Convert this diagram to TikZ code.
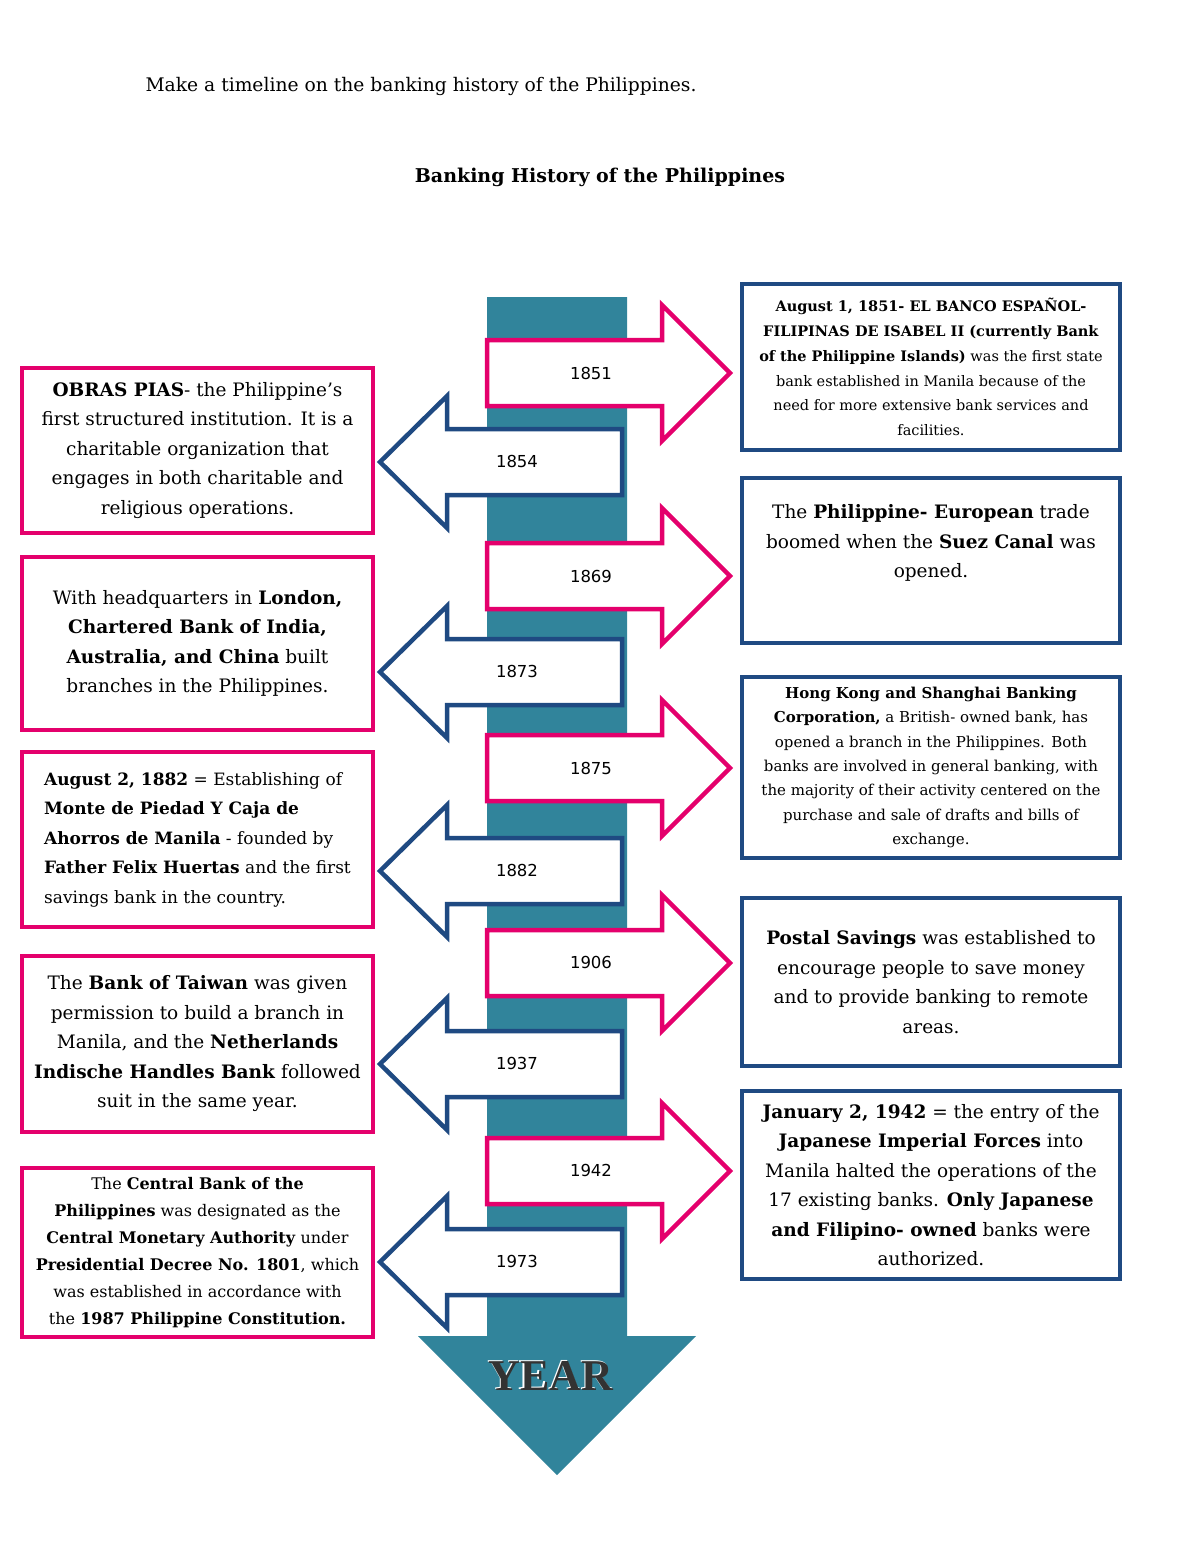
\documentclass[tikz,border=0pt]{standalone}
\usepackage{fontspec}
\setmainfont{DejaVu Serif}
\newfontfamily\yearfont{DejaVu Sans}
\newfontfamily\bannerfont{Liberation Serif}
\usepackage{xcolor}
\definecolor{timelineteal}{HTML}{31849B}
\definecolor{timelinepink}{HTML}{E4006C}
\definecolor{timelineblue}{HTML}{1F4A82}

\tikzset{
    pinkbox/.style = {draw = timelinepink, line width = 4pt, fill = white, align = center, minimum width = 351pt, inner sep = 0pt},
    bluebox/.style = {draw = timelineblue, line width = 4pt, fill = white, align = center, minimum width = 378pt, inner sep = 0pt},
    boxtext/.style = {font = \fontsize{18.5}{29.5}\selectfont},
    rightarrow/.style = {draw = timelinepink, line width = 4.5pt, fill = white, line join = miter},
    leftarrow/.style = {draw = timelineblue, line width = 4.5pt, fill = white, line join = miter},
    yearlabel/.style = {font = \yearfont\fontsize{16.5}{20}\selectfont}
}

\begin{document}
\begin{tikzpicture}[x = 1pt, y = -1pt]

        \useasboundingbox (0, 0) rectangle (1200, 1553);

        % Headings
        \node [anchor = west, font = \fontsize{18.7}{22}\selectfont] (task) at (142, 86) {Make a timeline on the banking history of the Philippines.};
        \node [font = \bfseries\fontsize{19}{23}\selectfont] (title) at (600, 177) {Banking History of the Philippines};

        % Year shaft
        \fill [timelineteal] (487, 297) -- (627, 297) -- (627, 1336) -- (696, 1336) -- (557, 1475) -- (418, 1336) -- (487, 1336) -- cycle;
        \node [font = \bannerfont\bfseries\fontsize{44}{48}\selectfont, text = white] (yearshadow) at (549.5, 1374.5) {YEAR};
        \node [font = \bannerfont\bfseries\fontsize{44}{48}\selectfont, text = black!80] (year) at (551, 1376) {YEAR};

        % Right arrows
        \draw [rightarrow] (487, 340) -- ++(175, 0) -- ++(0, -35) -- ++(68, 68) -- ++(-68, 68) -- ++(0, -35) -- ++(-175, 0) -- cycle;
        \node [yearlabel] (y1851) at (591, 373) {1851};
        \draw [rightarrow] (487, 543) -- ++(175, 0) -- ++(0, -35) -- ++(68, 68) -- ++(-68, 68) -- ++(0, -35) -- ++(-175, 0) -- cycle;
        \node [yearlabel] (y1869) at (591, 576) {1869};
        \draw [rightarrow] (487, 735) -- ++(175, 0) -- ++(0, -35) -- ++(68, 68) -- ++(-68, 68) -- ++(0, -35) -- ++(-175, 0) -- cycle;
        \node [yearlabel] (y1875) at (591, 768) {1875};
        \draw [rightarrow] (487, 930) -- ++(175, 0) -- ++(0, -35) -- ++(68, 68) -- ++(-68, 68) -- ++(0, -35) -- ++(-175, 0) -- cycle;
        \node [yearlabel] (y1906) at (591, 962) {1906};
        \draw [rightarrow] (487, 1138) -- ++(175, 0) -- ++(0, -35) -- ++(68, 68) -- ++(-68, 68) -- ++(0, -35) -- ++(-175, 0) -- cycle;
        \node [yearlabel] (y1942) at (591, 1170) {1942};

        % Left arrows
        \draw [leftarrow] (622, 429) -- ++(-175, 0) -- ++(0, -33) -- ++(-67, 66) -- ++(67, 66) -- ++(0, -33) -- ++(175, 0) -- cycle;
        \node [yearlabel] (y1854) at (517, 461) {1854};
        \draw [leftarrow] (622, 639) -- ++(-175, 0) -- ++(0, -33) -- ++(-67, 66) -- ++(67, 66) -- ++(0, -33) -- ++(175, 0) -- cycle;
        \node [yearlabel] (y1873) at (517, 671) {1873};
        \draw [leftarrow] (622, 838) -- ++(-175, 0) -- ++(0, -33) -- ++(-67, 66) -- ++(67, 66) -- ++(0, -33) -- ++(175, 0) -- cycle;
        \node [yearlabel] (y1882) at (517, 870) {1882};
        \draw [leftarrow] (622, 1031) -- ++(-175, 0) -- ++(0, -33) -- ++(-67, 66) -- ++(67, 66) -- ++(0, -33) -- ++(175, 0) -- cycle;
        \node [yearlabel] (y1937) at (517, 1063) {1937};
        \draw [leftarrow] (622, 1229) -- ++(-175, 0) -- ++(0, -33) -- ++(-67, 66) -- ++(67, 66) -- ++(0, -33) -- ++(175, 0) -- cycle;
        \node [yearlabel] (y1973) at (517, 1261) {1973};

        % Left boxes
        \node [pinkbox, boxtext, minimum height = 165pt] (obras) at (197.5, 450.5) {\textbf{OBRAS PIAS}- the Philippine’s\\ first structured institution. It is a\\ charitable organization that\\ engages in both charitable and\\ religious operations.};
        \node [pinkbox, boxtext, minimum height = 173pt] (chartered) at (197.5, 643.5) {With headquarters in \textbf{London,}\\ \textbf{Chartered Bank of India,}\\ \textbf{Australia, and China} built\\ branches in the Philippines.};
        \node [pinkbox, align = left, font = \fontsize{17}{29.5}\selectfont, minimum height = 175pt] (monte) at (197.5, 839.5) {\textbf{August 2, 1882} = Establishing of\\ \textbf{Monte de Piedad Y Caja de}\\ \textbf{Ahorros de Manila} - founded by\\ \textbf{Father Felix Huertas} and the first\\ savings bank in the country.};
        \node [pinkbox, boxtext, minimum height = 176pt] (taiwan) at (197.5, 1044) {The \textbf{Bank of Taiwan} was given\\ permission to build a branch in\\ Manila, and the \textbf{Netherlands}\\ \textbf{Indische Handles Bank} followed\\ suit in the same year.};
        \node [pinkbox, font = \fontsize{16}{27}\selectfont, minimum height = 169pt] (central) at (197.5, 1252.5) {The \textbf{Central Bank of the}\\ \textbf{Philippines} was designated as the\\ \textbf{Central Monetary Authority} under\\ \textbf{Presidential Decree No. 1801}, which\\ was established in accordance with\\ the \textbf{1987 Philippine Constitution.}};

        % Right boxes
        \node [bluebox, font = \fontsize{14.5}{24.8}\selectfont, minimum height = 166pt] (banco) at (931, 367) {\textbf{August 1, 1851- EL BANCO ESPAÑOL-}\\ \textbf{FILIPINAS DE ISABEL II (currently Bank}\\ \textbf{of the Philippine Islands)} was the first state\\ bank established in Manila because of the\\ need for more extensive bank services and\\ facilities.};
        \node [bluebox, boxtext, minimum height = 165pt] (suez) at (931, 560.5) {The \textbf{Philippine- European} trade\\ boomed when the \textbf{Suez Canal} was\\ opened.\\ \strut};
        \node [bluebox, font = \fontsize{15}{24.3}\selectfont, minimum height = 181pt] (hsbc) at (931, 767.5) {\textbf{Hong Kong and Shanghai Banking}\\ \textbf{Corporation,} a British- owned bank, has\\ opened a branch in the Philippines. Both\\ banks are involved in general banking, with\\ the majority of their activity centered on the\\ purchase and sale of drafts and bills of\\ exchange.};
        \node [bluebox, boxtext, minimum height = 168pt] (postal) at (931, 982) {\textbf{Postal Savings} was established to\\ encourage people to save money\\ and to provide banking to remote\\ areas.};
        \node [bluebox, boxtext, minimum height = 188pt] (japan) at (931, 1185) {\textbf{January 2, 1942} = the entry of the\\ \textbf{Japanese Imperial Forces} into\\ Manila halted the operations of the\\ 17 existing banks. \textbf{Only Japanese}\\ \textbf{and Filipino- owned} banks were\\ authorized.};

\end{tikzpicture}
\end{document}
